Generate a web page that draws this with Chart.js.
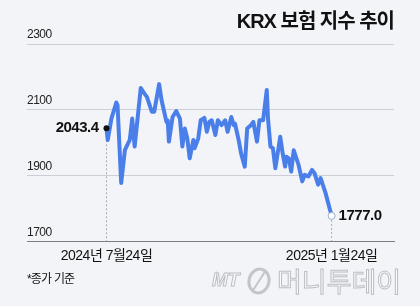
<!DOCTYPE html>
<html><head><meta charset="utf-8">
<script src="https://cdn.jsdelivr.net/npm/chart.js@4/dist/chart.umd.min.js"></script>
<style>html,body{margin:0;padding:0;background:#f3f4f8;}canvas{display:block;}</style>
</head><body>
<canvas id="c" width="420" height="306" style="width:420px;height:306px"></canvas>
<script>
const titleText = "KRX 보험 지수 추이";
const footnote = "*종가 기준";
// days since 2024-07-24
const days = [0,1,4,8,9,12,15,19,21,23,28,31,33,37,39,43,45,49,50,51,54,57,60,62,64,66,68,71,72,75,77,80,82,84,86,89,91,94,97,99,102,104,105,108,110,113,115,118,120,123,125,128,131,132,134,136,138,142,144,146,147,149,151,153,157,160,162,165,168,170,173,175,179,183,184];
const values = [2043.4,2008,2073,2122,2114,1877,1977,2008,2073,1988,2166,2149,2139,2094,2094,2178,2129,2063,2068,2003,2078,2096,2073,1988,2043,2013,1952,2008,1983,2013,2068,2075,2033,2063,2068,2023,2068,2053,2068,2033,2078,2053,2058,2008,1967,1927,2043,2053,2063,2003,2068,2068,2160,2073,1988,1983,1922,2018,1967,1927,1957,1952,1912,1977,1932,1882,1902,1897,1917,1907,1872,1892,1847,1791,1777.0];
const xTickDays = [0, 184];
const xTickLabels = ["2024년 7월24일", "2025년 1월24일"];
const yTicks = [1700, 1900, 2100, 2300];
const startLabel = "2043.4";
const endLabel = "1777.0";

const FONT = '"Liberation Sans", "Noto Sans CJK KR", sans-serif';
const lastIdx = values.length - 1;

const overlay = {
  id: 'overlay',
  beforeDraw(chart) {
    const ctx = chart.ctx;
    ctx.save();
    ctx.fillStyle = '#f3f4f8';
    ctx.fillRect(0, 0, chart.width, chart.height);
    ctx.restore();
    ctx.letterSpacing = '-0.5px';
  },
  afterDraw(chart) {
    const ctx = chart.ctx;
    const meta = chart.getDatasetMeta(0);
    const p0 = meta.data[0], p1 = meta.data[lastIdx];
    ctx.save();
    ctx.letterSpacing = '-1px';
    ctx.font = 'bold 20px ' + FONT;
    ctx.fillStyle = '#111';
    ctx.textAlign = 'right';
    ctx.textBaseline = 'middle';
    ctx.fillText(titleText, 394, 22);
    ctx.letterSpacing = '-0.5px';
    ctx.font = 'bold 15px ' + FONT;
    ctx.textAlign = 'right';
    ctx.fillText(startLabel, p0.x - 8, p0.y);
    ctx.textAlign = 'left';
    ctx.fillText(endLabel, p1.x + 7, p1.y);
    ctx.font = '12px ' + FONT;
    ctx.letterSpacing = '-0.8px';
    ctx.fillStyle = '#111';
    ctx.fillText(footnote, 27, 280);
    ctx.letterSpacing = '0px';
    ctx.fillStyle = '#fbfbfd';
    ctx.strokeStyle = '#bcbdc3';
    ctx.lineWidth = 1;
    ctx.font = 'italic bold 19px ' + FONT;
    ctx.textAlign = 'left';
    ctx.fillText('MT', 212, 281);
    ctx.strokeText('MT', 212, 281);
    ctx.beginPath();
    ctx.ellipse(259, 281, 10, 12, 0.25, 0, Math.PI * 2);
    ctx.lineWidth = 3;
    ctx.strokeStyle = '#c4c5ca';
    ctx.stroke();
    ctx.beginPath();
    ctx.moveTo(252, 292); ctx.lineTo(266, 270);
    ctx.lineWidth = 2;
    ctx.stroke();
    ctx.lineWidth = 1;
    ctx.strokeStyle = '#bcbdc3';
    ctx.font = '27px "Noto Sans CJK KR", sans-serif';
    ctx.fillText('머니투데이', 277, 282);
    ctx.strokeText('머니투데이', 277, 282);
    ctx.restore();
  }
};

new Chart(document.getElementById('c'), {
  type: 'line',
  data: {
    datasets: [
      {
        data: days.map((d, i) => ({x: d, y: values[i]})),
        borderColor: '#4a7fea',
        borderWidth: 4,
        borderJoinStyle: 'round',
        borderCapStyle: 'round',
        tension: 0,
        order: 0,
        pointRadius: (c) => (c.dataIndex === 0 ? 3 : (c.dataIndex === lastIdx ? 3.5 : 0)),
        pointBackgroundColor: (c) => (c.dataIndex === 0 ? '#111' : '#ffffff'),
        pointBorderColor: (c) => (c.dataIndex === 0 ? '#111' : '#9fb0c8'),
        pointBorderWidth: (c) => (c.dataIndex === 0 ? 0 : 1),
      },
      {
        data: [{x: days[0], y: values[0]}, {x: days[0], y: yTicks[0]}],
        borderColor: '#aaaab2', borderWidth: 1, borderDash: [2, 2], pointRadius: 0, order: 1
      },
      {
        data: [{x: days[lastIdx], y: values[lastIdx]}, {x: days[lastIdx], y: yTicks[0]}],
        borderColor: '#aaaab2', borderWidth: 1, borderDash: [2, 2], pointRadius: 0, order: 1
      }
    ]
  },
  options: {
    responsive: false,
    animation: false,
    layout: {padding: {left: 27, right: 26, top: 44, bottom: 34}},
    plugins: {legend: {display: false}, tooltip: {enabled: false}, title: {display: false}},
    scales: {
      x: {
        type: 'linear', min: -65, max: 235,
        afterBuildTicks: (ax) => { ax.ticks = xTickDays.map(v => ({value: v})); },
        grid: {display: false, drawTicks: false},
        border: {display: true, color: '#7d7d82', width: 1},
        ticks: {
          autoSkip: false, maxRotation: 0, padding: 7,
          font: {family: FONT, size: 14}, color: '#111',
          callback: (v) => xTickLabels[xTickDays.indexOf(v)]
        }
      },
      y: {
        min: 1700, max: 2300,
        afterBuildTicks: (ax) => { ax.ticks = yTicks.map(v => ({value: v})); },
        grid: {color: '#cdced6', lineWidth: 1, drawTicks: false},
        border: {display: false},
        ticks: {mirror: true, padding: 0, labelOffset: -9, font: {family: FONT, size: 12}, color: '#222',
          callback: (v) => String(v)}
      }
    }
  },
  plugins: [overlay]
});
</script>
</body></html>
